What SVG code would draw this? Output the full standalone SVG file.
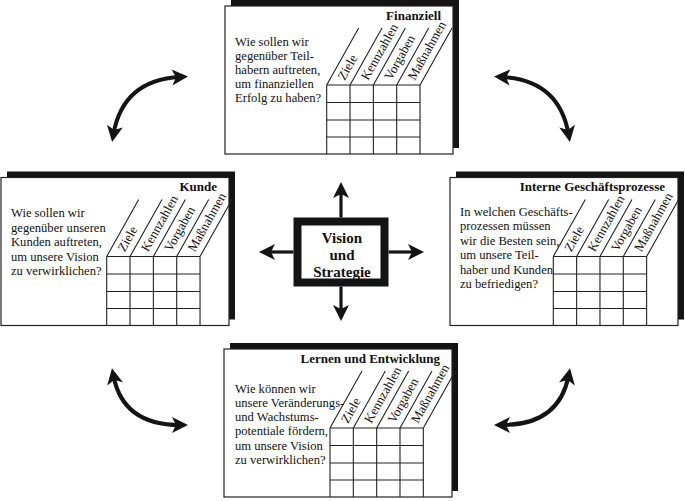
<svg xmlns="http://www.w3.org/2000/svg" width="685" height="501" viewBox="0 0 685 501">
<defs>
<style>
.shadow{fill:#141414}
.card{fill:#fff;stroke:#222;stroke-width:1.2}
.q{font-family:"Liberation Serif","Times New Roman",serif;font-size:12.6px;fill:#111}
.t{font-family:"Liberation Serif","Times New Roman",serif;font-size:13px;font-weight:bold;fill:#111;text-anchor:end}
.c{font-family:"Liberation Serif","Times New Roman",serif;font-size:15px;font-weight:bold;fill:#111;text-anchor:middle}
.arc{fill:none;stroke:#141414;stroke-width:4}
.ray{fill:none;stroke:#141414;stroke-width:3.2}
</style>
<marker id="head" markerUnits="userSpaceOnUse" markerWidth="20" markerHeight="20" viewBox="-17 -10 20 20" refX="-8" refY="0" orient="auto-start-reverse">
<path d="M0,0 L-16,-8 L-12,0 L-16,8 Z" fill="#141414"/>
</marker>
<g id="grid">
<g stroke="#222" stroke-width="1.1" fill="none">
<path d="M0,0V69M23.33,0V69M46.67,0V69M70,0V69M93.33,0V69"/>
<path d="M0,0H93.33M0,17.5H93.33M0,35H93.33M0,52H93.33"/>
<path d="M0,0L32,-57M23.33,0L55.33,-57M46.67,0L78.67,-57M70,0L102,-57M93.33,0L125.33,-57"/>
</g>
<g font-family="Liberation Serif, Times New Roman, serif" font-size="13" fill="#111">
<text transform="translate(18,-4) rotate(-60.7)">Ziele</text>
<text transform="translate(41.33,-4) rotate(-60.7)">Kennzahlen</text>
<text transform="translate(64.67,-4) rotate(-60.7)">Vorgaben</text>
<text transform="translate(88,-4) rotate(-60.7)">Maßnahmen</text>
</g>
</g>
</defs>

<g id="finanziell" transform="translate(225,6)">
<rect class="shadow" x="6" y="-6" width="228" height="148"/>
<rect class="card" x="0" y="0" width="228" height="148"/>
<text class="t" x="216" y="13.5">Finanziell</text>
<text class="q" x="10" y="40">Wie sollen wir</text>
<text class="q" x="10" y="54">gegenüber Teil-</text>
<text class="q" x="10" y="68">habern auftreten,</text>
<text class="q" x="10" y="82">um finanziellen</text>
<text class="q" x="10" y="96">Erfolg zu haben?</text>
<use href="#grid" x="101.7" y="79"/>
</g>

<g id="kunde" transform="translate(1,177.5)">
<rect class="shadow" x="6" y="-6" width="228" height="148"/>
<rect class="card" x="0" y="0" width="228" height="148"/>
<text class="t" x="216" y="13.5">Kunde</text>
<text class="q" x="10" y="39.5">Wie sollen wir</text>
<text class="q" x="10" y="54">gegenüber unseren</text>
<text class="q" x="10" y="68.5">Kunden auftreten,</text>
<text class="q" x="10" y="83">um unsere Vision</text>
<text class="q" x="10" y="97.5">zu verwirklichen?</text>
<use href="#grid" x="105.7" y="79"/>
</g>

<g id="interne" transform="translate(450,177.5)">
<rect class="shadow" x="6" y="-6" width="228" height="148"/>
<rect class="card" x="0" y="0" width="228" height="148"/>
<text class="t" x="215" y="13.5">Interne Geschäftsprozesse</text>
<text class="q" x="10" y="38">In welchen Geschäfts-</text>
<text class="q" x="10" y="52.5">prozessen müssen</text>
<text class="q" x="10" y="67">wir die Besten sein,</text>
<text class="q" x="10" y="81.5">um unsere Teil-</text>
<text class="q" x="10" y="96">haber und Kunden</text>
<text class="q" x="10" y="110.5">zu befriedigen?</text>
<use href="#grid" x="103.3" y="79"/>
</g>

<g id="lernen" transform="translate(224,349)">
<rect class="shadow" x="6" y="-6" width="228" height="148"/>
<rect class="card" x="0" y="0" width="228" height="148"/>
<text class="t" x="216" y="13.5">Lernen und Entwicklung</text>
<text class="q" x="11" y="43.5">Wie können wir</text>
<text class="q" x="11" y="57.8">unsere Veränderungs-</text>
<text class="q" x="11" y="72.1">und Wachstums-</text>
<text class="q" x="11" y="86.4">potentiale fördern,</text>
<text class="q" x="11" y="100.7">um unsere Vision</text>
<text class="q" x="11" y="115">zu verwirklichen?</text>
<use href="#grid" x="106" y="79"/>
</g>

<g id="vision">
<rect x="297.5" y="221.5" width="87" height="61" fill="#fff" stroke="#141414" stroke-width="8"/>
<text class="c" x="342" y="242.5">Vision</text>
<text class="c" x="342" y="259.5">und</text>
<text class="c" x="342" y="276.5">Strategie</text>
</g>

<g id="connectors">
<path class="arc" d="M113.5,134 Q123,80 180,77" marker-start="url(#head)" marker-end="url(#head)"/>
<path class="arc" d="M568.5,134 Q559,80 502,77" marker-start="url(#head)" marker-end="url(#head)"/>
<path class="arc" d="M113.5,376 Q123,425 180,425" marker-start="url(#head)" marker-end="url(#head)"/>
<path class="arc" d="M568.5,376 Q559,425 502,425" marker-start="url(#head)" marker-end="url(#head)"/>
<path class="ray" d="M341,217.5V190" marker-end="url(#head)"/>
<path class="ray" d="M341,286.5V313" marker-end="url(#head)"/>
<path class="ray" d="M293.5,252H267" marker-end="url(#head)"/>
<path class="ray" d="M388.5,252H416" marker-end="url(#head)"/>
</g>
</svg>
